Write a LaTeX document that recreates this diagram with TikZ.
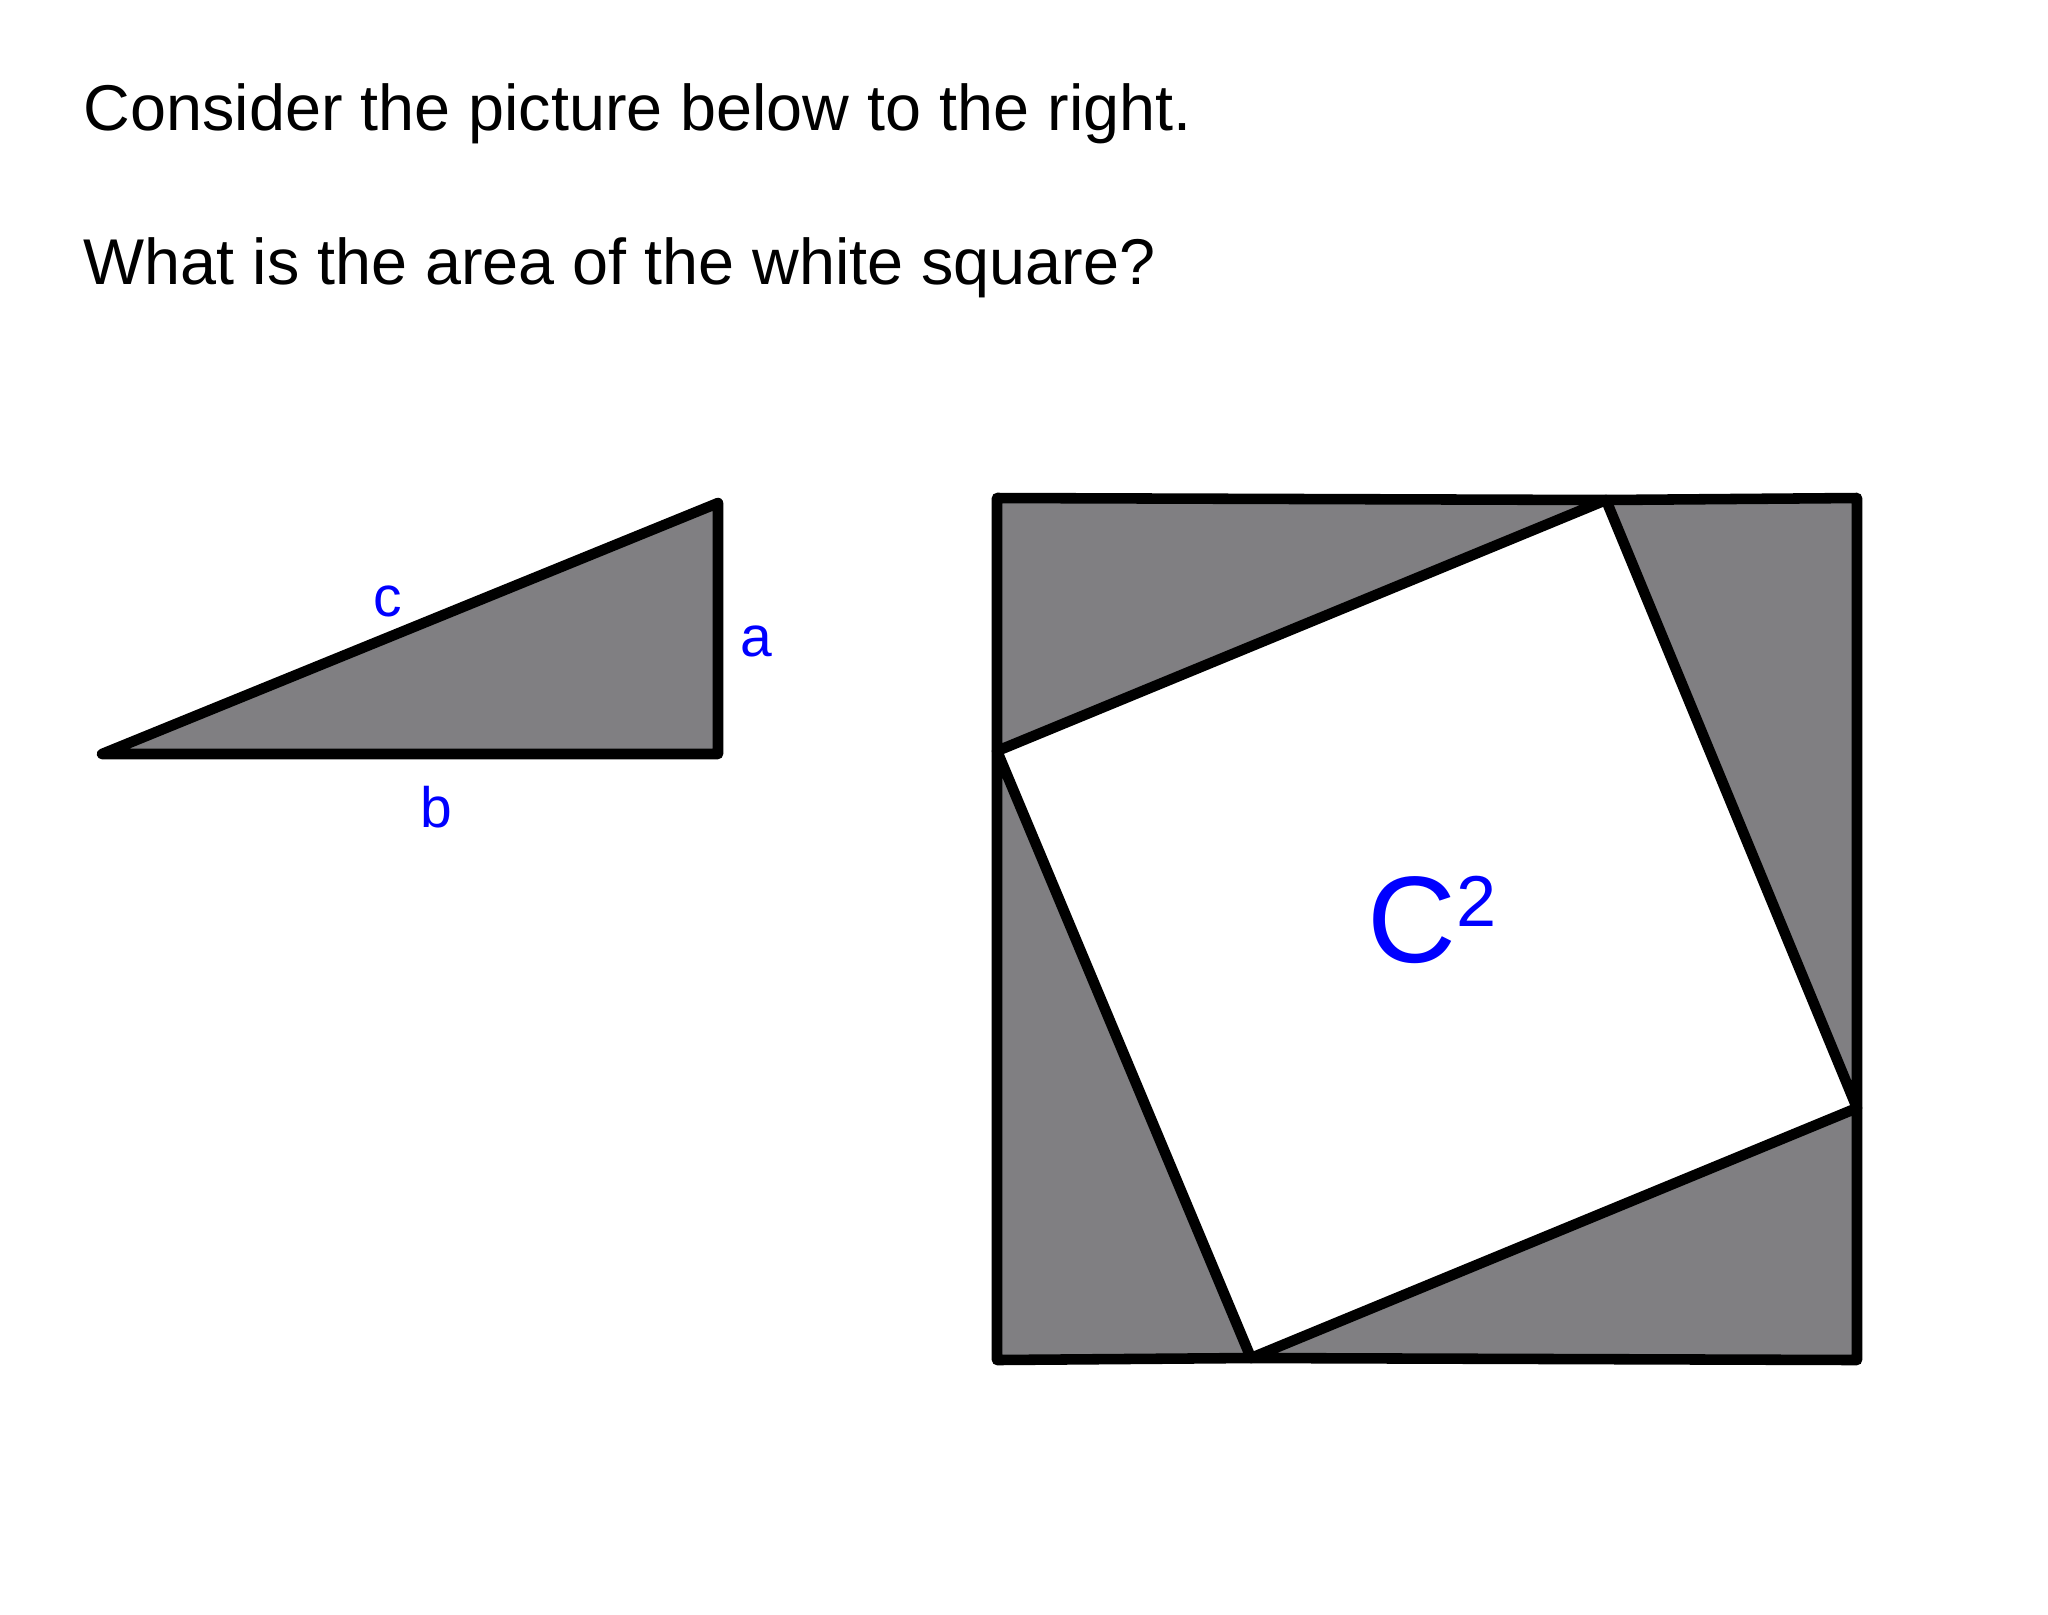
\documentclass[tikz,border=0pt]{standalone}
\usepackage{fontspec}
\setmainfont{Liberation Sans}
\definecolor{shade}{RGB}{128,127,130}
\definecolor{lblblue}{RGB}{0,0,255}
\tikzset{
  edge/.style={line width=3pt, line join=round, line cap=round},
  piece/.style={edge, draw=black, fill=shade},
  lbl/.style={text=lblblue, inner sep=0pt, anchor=base, font=\fontsize{16.2}{18}\selectfont},
  question/.style={inner sep=0pt, anchor=base west, font=\fontsize{18.4}{22}\selectfont}
}

\begin{document}
\begin{tikzpicture}[x=0.01cm, y=-0.01cm]
		%%%%% START %%%%%
		\path[fill=white] (0, 0) rectangle (2048, 1614);
		
		\node[question] (line1) at (83, 130) {Consider the picture below to the right.};
		\node[question] (line2) at (83, 284) {What is the area of the white square?};
		
		% single triangle
		\draw[piece] (102, 754) -- (718, 754) -- (718, 503) -- cycle;
		\node[lbl] (c) at (388, 616) {c};
		\node[lbl] (a) at (756, 656) {a};
		\node[lbl] (b) at (436, 827) {b};
		
		% four triangles round the white square
		\draw[piece] (997, 498) -- (1606, 500) -- (997, 751) -- cycle;
		\draw[piece] (1606, 500) -- (1857, 498) -- (1857, 1108) -- cycle;
		\draw[piece] (1857, 1108) -- (1857, 1360) -- (1251, 1358) -- cycle;
		\draw[piece] (1251, 1358) -- (997, 1360) -- (997, 751) -- cycle;
		
		\node[text=lblblue, inner sep=0pt, anchor=base west, font=\fontsize{35}{40}\selectfont] (csq) at (1367, 962) {C\raisebox{10.2pt}{\fontsize{20.5}{22}\selectfont 2}};
		%%%%% END %%%%%
	\end{tikzpicture}
\end{document}
